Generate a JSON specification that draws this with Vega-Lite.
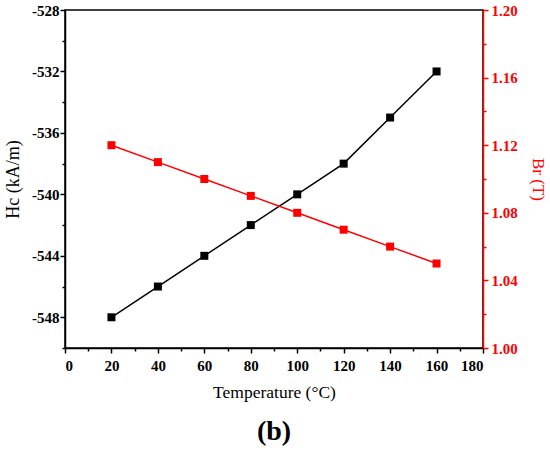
{
  "$schema": "https://vega.github.io/schema/vega-lite/v6.json",
  "width": 418,
  "height": 338,
  "autosize": "none",
  "padding": {"left": 65, "top": 10, "right": 67, "bottom": 103},
  "background": "white",
  "config": {
    "font": "Liberation Serif",
    "view": {"stroke": "black", "strokeWidth": 1.5},
    "axis": {"grid": false, "labelFont": "Liberation Serif", "titleFont": "Liberation Serif"}
  },
  "title": {
    "text": "(b)",
    "orient": "bottom",
    "anchor": "middle",
    "fontSize": 28,
    "fontWeight": "bold",
    "font": "Liberation Serif",
    "offset": 17,
    "color": "black"
  },
  "data": {
    "values": [
      {"t": 20, "hc": -548, "br": 1.12},
      {"t": 40, "hc": -546, "br": 1.11},
      {"t": 60, "hc": -544, "br": 1.10},
      {"t": 80, "hc": -542, "br": 1.09},
      {"t": 100, "hc": -540, "br": 1.08},
      {"t": 120, "hc": -538, "br": 1.07},
      {"t": 140, "hc": -535, "br": 1.06},
      {"t": 160, "hc": -532, "br": 1.05}
    ]
  },
  "encoding": {
    "x": {
      "field": "t",
      "type": "quantitative",
      "scale": {"domain": [0, 180], "nice": false},
      "axis": {
        "title": "Temperature (°C)",
        "titleFontSize": 17.5,
        "titleFontWeight": "normal",
        "titleColor": "black",
        "titlePadding": 10,
        "values": [0, 10, 20, 30, 40, 50, 60, 70, 80, 90, 100, 110, 120, 130, 140, 150, 160, 170, 180],
        "labelExpr": "datum.value % 20 === 0 ? '' + datum.value : ''",
        "labelFontSize": 15,
        "labelFontWeight": "bold",
        "labelColor": "black",
        "labelPadding": 5,
        "domainColor": "black",
        "domainWidth": 1.5,
        "tickColor": "black",
        "tickWidth": 1.5,
        "tickSize": {"condition": {"test": "datum.value % 20 === 0", "value": 5}, "value": 3}
      }
    }
  },
  "layer": [
    {
      "mark": {"type": "line", "color": "black", "strokeWidth": 1.5, "point": {"shape": "square", "size": 64, "filled": true, "color": "black", "opacity": 1}},
      "encoding": {
        "y": {
          "field": "hc",
          "type": "quantitative",
          "scale": {"domain": [-550, -528], "nice": false, "zero": false},
          "axis": {
            "orient": "left",
            "title": "Hc (kA/m)",
            "titleFontSize": 18,
            "titleFontWeight": "normal",
            "titleColor": "black",
            "titlePadding": 9,
            "values": [-550, -548, -546, -544, -542, -540, -538, -536, -534, -532, -530, -528],
            "labelExpr": "datum.value % 4 === 0 ? '' + datum.value : ''",
            "labelFontSize": 15,
            "labelFontWeight": "bold",
            "labelColor": "black",
            "labelPadding": 1,
            "domainColor": "black",
            "domainWidth": 1.5,
            "tickColor": "black",
            "tickWidth": 1.5,
            "tickSize": {"condition": {"test": "datum.value % 4 === 0", "value": 5}, "value": 3}
          }
        }
      }
    },
    {
      "mark": {"type": "line", "color": "#ff0000", "strokeWidth": 1.5, "point": {"shape": "square", "size": 64, "filled": true, "color": "#ff0000", "opacity": 1}},
      "encoding": {
        "y": {
          "field": "br",
          "type": "quantitative",
          "scale": {"domain": [1.0, 1.2], "nice": false, "zero": false},
          "axis": {
            "orient": "right",
            "title": "Br (T)",
            "titleFontSize": 17,
            "titleFontWeight": "normal",
            "titleColor": "#ff0000",
            "titlePadding": 11,
            "values": [1.0, 1.02, 1.04, 1.06, 1.08, 1.1, 1.12, 1.14, 1.16, 1.18, 1.2],
            "labelExpr": "round(datum.value * 100) % 4 === 0 ? format(datum.value, '.2f') : ''",
            "labelFontSize": 15,
            "labelFontWeight": "bold",
            "labelColor": "#ff0000",
            "labelPadding": 3,
            "domainColor": "#ff0000",
            "domainWidth": 1.5,
            "tickColor": "#ff0000",
            "tickWidth": 1.5,
            "tickSize": {"condition": {"test": "round(datum.value * 100) % 4 === 0", "value": 5}, "value": 3}
          }
        }
      }
    }
  ],
  "resolve": {"scale": {"y": "independent"}}
}
